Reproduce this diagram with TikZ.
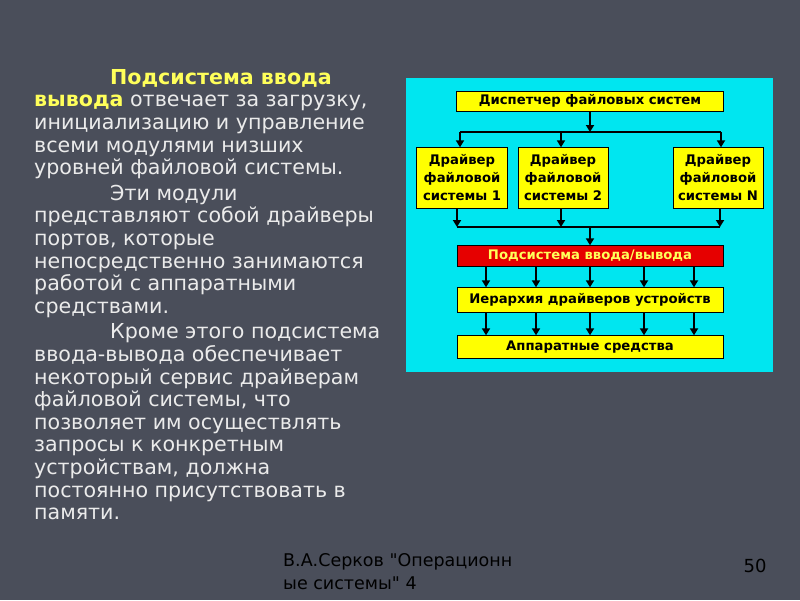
\documentclass[tikz,border=0pt]{standalone}
\usepackage{fontspec}
\setmainfont{DejaVu Sans}
\usetikzlibrary{positioning,arrows.meta}
\definecolor{slide}{RGB}{74,78,90}
\definecolor{panel}{RGB}{0,230,240}
\definecolor{boxyellow}{RGB}{255,255,0}
\definecolor{boxred}{RGB}{230,0,0}
\definecolor{hilite}{RGB}{255,255,90}
\definecolor{bodytext}{RGB}{235,235,235}
\begin{document}
\begin{tikzpicture}[x=1pt,y=-1pt,
		box/.style={draw=black,fill=boxyellow,inner sep=0pt,font=\bfseries\fontsize{13.2}{18}\selectfont,align=center},
		wire/.style={line width=2pt},
		arr/.style={line width=2pt,-{Triangle[length=7pt,width=8pt]}},
		body/.style={text=bodytext,font=\fontsize{20.6}{22.6}\selectfont,align=left,anchor=north west,inner sep=0pt}]

	\fill[slide] (0,0) rectangle (800,600);
	\useasboundingbox (0,0) rectangle (800,600);

	% left column text
	\node[body] (para) at (34,69) {%
		\hspace*{76pt}{\color{hilite}\bfseries Подсистема ввода}\\
		{\color{hilite}\bfseries вывода} отвечает за загрузку,\\
		инициализацию и управление\\
		всеми модулями низших\\
		уровней файловой системы.\\[3pt]
		\hspace*{76pt}Эти модули\\
		представляют собой драйверы\\
		портов, которые\\
		непосредственно занимаются\\
		работой с аппаратными\\
		средствами.\\[3pt]
		\hspace*{76pt}Кроме этого подсистема\\
		ввода-вывода обеспечивает\\
		некоторый сервис драйверам\\
		файловой системы, что\\
		позволяет им осуществлять\\
		запросы к конкретным\\
		устройствам, должна\\
		постоянно присутствовать в\\
		памяти.};

	% diagram panel
	\fill[panel] (406,78) rectangle (773,372);

	\node[box,minimum width=267pt,minimum height=20pt] (disp) at (590,101) {Диспетчер файловых систем};
	\node[box,minimum width=91pt,minimum height=61pt] (drv1) at (462,178) {Драйвер\\файловой\\системы 1};
	\node[box,minimum width=90pt,minimum height=61pt] (drv2) at (563,178) {Драйвер\\файловой\\системы 2};
	\node[box,minimum width=90pt,minimum height=61pt] (drvn) at (718,178) {Драйвер\\файловой\\системы N};
	\node[box,fill=boxred,text=hilite,minimum width=266pt,minimum height=21pt] (io) at (590,256) {Подсистема ввода/вывода};
	\node[box,minimum width=266pt,minimum height=25pt] (hier) at (590,300) {Иерархия драйверов устройств};
	\node[box,minimum width=266pt,minimum height=23pt] (hw) at (590,347) {Аппаратные средства};

	\coordinate (busa) at (590,132);
	\coordinate (busb) at (590,227);

	\draw[arr] (disp) -- (busa);
	\draw[wire] (460,132) -- (721,132);
	\draw[arr] (460,132) -- (drv1.north -| 460,0);
	\draw[arr] (561,132) -- (drv2.north -| 561,0);
	\draw[arr] (721,132) -- (drvn.north -| 721,0);

	\draw[arr] (drv1.south -| 457,0) -- (457,227);
	\draw[arr] (drv2.south -| 561,0) -- (561,227);
	\draw[arr] (drvn.south -| 720,0) -- (720,227);
	\draw[wire] (457,227) -- (720,227);
	\draw[arr] (busb) -- (io);

	\foreach \x in {486,536,590,644,694} {
		\draw[arr] (io.south -| \x,0) -- (hier.north -| \x,0);
		\draw[arr] (hier.south -| \x,0) -- (hw.north -| \x,0);
	}

	% footer
	\node[text=black,font=\fontsize{17.5}{23}\selectfont,align=left,anchor=north west,inner sep=0pt] (foot) at (283,553) {В.А.Серков \textquotedbl Операционн\\ые системы\textquotedbl\ 4};
	\node[text=black,font=\fontsize{18}{18}\selectfont,inner sep=0pt] (page) at (755,566) {50};
\end{tikzpicture}
\end{document}
